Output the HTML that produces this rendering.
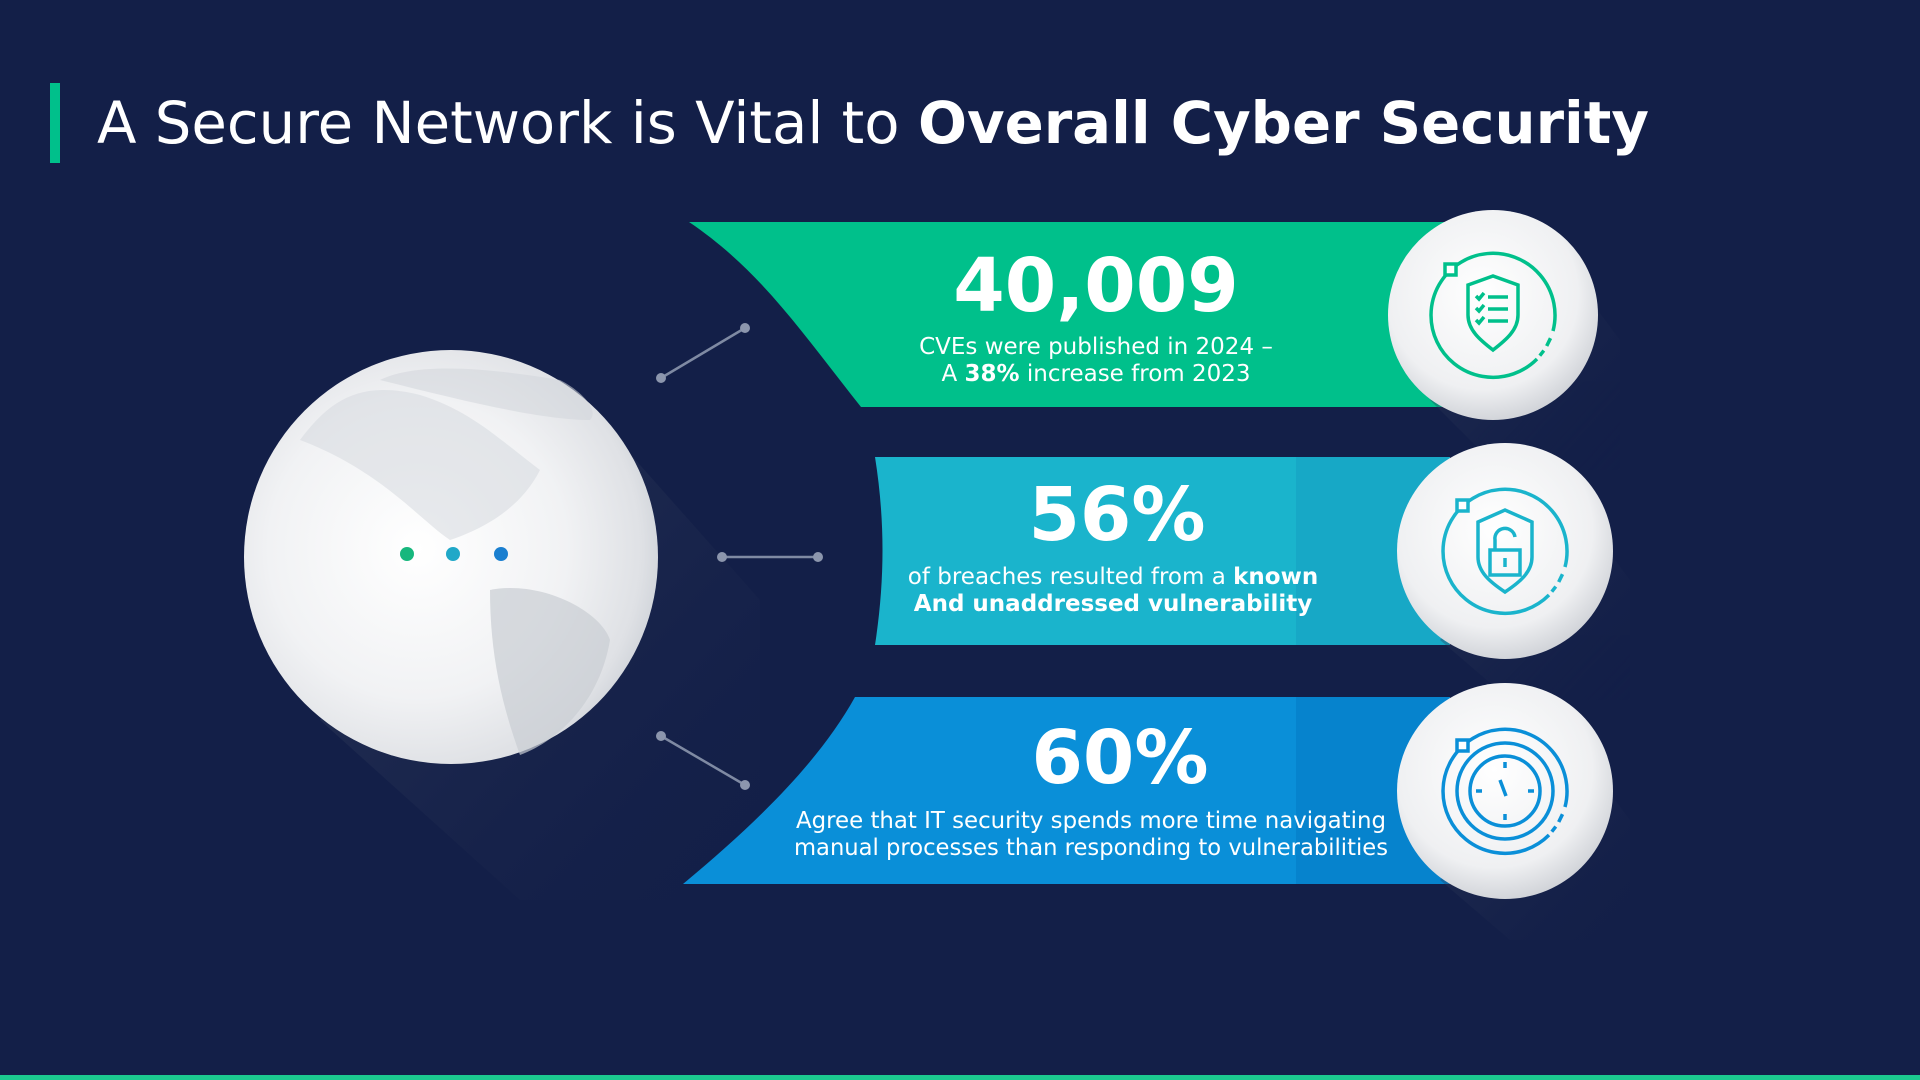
<!DOCTYPE html>
<html><head><meta charset="utf-8"><style>
html,body{margin:0;padding:0;background:#131f48;}
svg{display:block}
</style></head><body>
<svg width="1920" height="1080" viewBox="0 0 1920 1080" xmlns="http://www.w3.org/2000/svg">
<defs>
<radialGradient id="globe" cx="0.42" cy="0.48" r="0.6">
<stop offset="0" stop-color="#ffffff"/><stop offset="0.6" stop-color="#f1f2f4"/><stop offset="0.9" stop-color="#dfe1e5"/><stop offset="1" stop-color="#cfd3d9"/>
</radialGradient>
<radialGradient id="ball" cx="0.45" cy="0.4" r="0.65">
<stop offset="0" stop-color="#ffffff"/><stop offset="0.7" stop-color="#eff0f2"/><stop offset="1" stop-color="#c9ccd2"/>
</radialGradient>
<linearGradient id="shad" x1="0" y1="0" x2="1" y2="1">
<stop offset="0" stop-color="#3a4560" stop-opacity="0.9"/><stop offset="1" stop-color="#131f48" stop-opacity="0"/>
</linearGradient>
</defs>
<rect width="1920" height="1080" fill="#131f48"/>
<rect x="50" y="83" width="10" height="80" fill="#00c08b"/>
<text x="97" y="143" font-family="'DejaVu Sans','Liberation Sans',sans-serif" font-size="58" fill="#fff" textLength="1552" lengthAdjust="spacingAndGlyphs">A Secure Network is Vital to <tspan font-weight="bold">Overall Cyber Security</tspan></text>
<polygon points="600,420 760,600 760,900 520,900 320,720" fill="url(#shad)" opacity="0.7"/>
<circle cx="451" cy="557" r="207" fill="url(#globe)"/>
<path d="M300,440 C330,400 360,380 420,395 C470,410 500,440 540,470 C520,510 480,530 450,540 C420,520 380,470 300,440Z" fill="#d6d9de" opacity="0.55"/>
<path d="M490,590 C540,580 600,610 610,640 C600,700 560,740 520,755 C500,700 490,650 490,590Z" fill="#c9cdd3" opacity="0.7"/>
<path d="M380,380 C420,360 500,370 560,380 C580,390 600,410 590,420 C540,420 460,400 380,380Z" fill="#d2d5da" opacity="0.55"/>
<circle cx="407" cy="554" r="7" fill="#17b77d"/><circle cx="453" cy="554" r="7" fill="#20a8c8"/><circle cx="501" cy="554" r="7" fill="#1a7fd0"/>
<g stroke="#7f8aa3" stroke-width="2.5" fill="#8c96ad">
<line x1="661" y1="378" x2="745" y2="328"/><circle cx="661" cy="378" r="5" stroke="none"/><circle cx="745" cy="328" r="5" stroke="none"/>
<line x1="722" y1="557" x2="818" y2="557"/><circle cx="722" cy="557" r="5" stroke="none"/><circle cx="818" cy="557" r="5" stroke="none"/>
<line x1="661" y1="736" x2="745" y2="785"/><circle cx="661" cy="736" r="5" stroke="none"/><circle cx="745" cy="785" r="5" stroke="none"/>
</g>
<path d="M689,222 L1450,222 L1450,407 L861,407 C800,330 760,270 689,222Z" fill="#00c08b"/>
<path d="M875,457 L1450,457 L1450,645 L875,645 C885,580 885,520 875,457Z" fill="#1ab4cc"/>
<rect x="1296" y="457" width="154" height="188" fill="#17a8c6"/>
<path d="M855,697 L1450,697 L1450,884 L683,884 C760,820 820,760 855,697Z" fill="#0a8fd8"/>
<rect x="1296" y="697" width="154" height="187" fill="#0683cd"/>
<g fill="url(#shad)" opacity="0.6">
<polygon points="1560,260 1620,340 1620,470 1500,470 1430,400"/>
<polygon points="1570,500 1630,580 1630,700 1510,700 1440,640"/>
<polygon points="1570,740 1630,820 1630,940 1510,940 1440,880"/>
</g>
<circle cx="1493" cy="315" r="105" fill="url(#ball)"/>
<circle cx="1505" cy="551" r="108" fill="url(#ball)"/>
<circle cx="1505" cy="791" r="108" fill="url(#ball)"/>
<!-- icon 1 -->
<g fill="none" stroke="#00c08b" stroke-width="3.5">
<path d="M1537,359 A62,62 0 1 1 1553,331"/>
<path d="M1550.5,338.2 L1546.7,346 M1543.8,350.6 L1539.8,355.7"/>
<rect x="1445" y="264" width="11" height="11" fill="#fff"/>
<path d="M1468,285 l25,-9 l25,9 v30 c0,15 -12,25 -25,35 c-13,-10 -25,-20 -25,-35z"/>
<path d="M1476,296 l3,3 l5,-6 M1488,297 h20 M1476,308 l3,3 l5,-6 M1488,309 h20 M1476,320 l3,3 l5,-6 M1488,321 h20"/>
</g>
<!-- icon 2 -->
<g fill="none" stroke="#1ab4cc" stroke-width="3.5">
<path d="M1549,595 A62,62 0 1 1 1565,567"/>
<path d="M1562.5,574.2 L1558.7,582 M1555.8,586.6 L1551.8,591.7"/>
<rect x="1457" y="500" width="11" height="11" fill="#fff"/>
<path d="M1478,522 l27,-12 l27,12 v35 c0,15 -12,25 -27,35 c-15,-10 -27,-20 -27,-35z"/>
<rect x="1490" y="550" width="30" height="25"/><path d="M1495,550 v-10 a10,10 0 0 1 20,-3"/><path d="M1505,558 v9"/>
</g>
<!-- icon 3 -->
<g fill="none" stroke="#0a8fd8" stroke-width="3.5">
<path d="M1549,835 A62,62 0 1 1 1565,807"/>
<path d="M1562.5,814.2 L1558.7,822 M1555.8,826.6 L1551.8,831.7"/>
<rect x="1457" y="740" width="11" height="11" fill="#fff"/>
<circle cx="1505" cy="791" r="48"/><circle cx="1505" cy="791" r="35"/>
<path d="M1500,780 l6,16 M1505,762 v6 M1505,814 v6 M1476,791 h6 M1528,791 h6"/>
</g>
<g font-family="'DejaVu Sans','Liberation Sans',sans-serif" fill="#fff" text-anchor="middle">
<text x="1096" y="311" font-size="74" font-weight="bold">40,009</text>
<text x="1096" y="354" font-size="23">CVEs were published in 2024 –</text>
<text x="1096" y="381" font-size="23">A <tspan font-weight="bold">38%</tspan> increase from 2023</text>
<text x="1117" y="540" font-size="74" font-weight="bold">56%</text>
<text x="1113" y="584" font-size="23">of breaches resulted from a <tspan font-weight="bold">known</tspan></text>
<text x="1113" y="611" font-size="23" font-weight="bold">And unaddressed vulnerability</text>
<text x="1120" y="783" font-size="74" font-weight="bold">60%</text>
<text x="1091" y="828" font-size="23" textLength="590" lengthAdjust="spacingAndGlyphs">Agree that IT security spends more time navigating</text>
<text x="1091" y="855" font-size="23" textLength="594" lengthAdjust="spacingAndGlyphs">manual processes than responding to vulnerabilities</text>
</g>
<rect x="0" y="1075" width="1920" height="5" fill="#1cc98f"/>
</svg>
</body></html>
